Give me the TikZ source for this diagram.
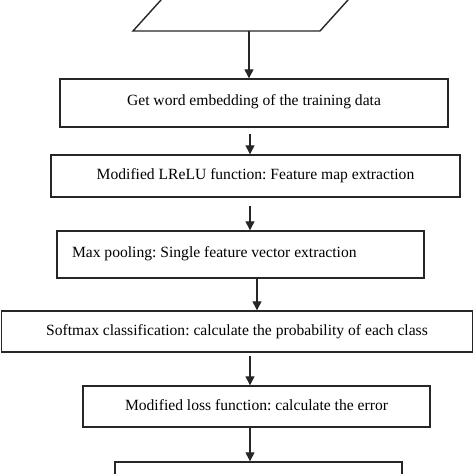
\documentclass[tikz,border=0pt]{standalone}
\usepackage{fontspec}
\setmainfont{Liberation Serif}
\usetikzlibrary{arrows.meta}
\frenchspacing

\tikzset{
    stepbox/.style={draw=black!85, line width=1.4pt, rectangle, inner sep=0pt,
        font=\fontsize{15.6}{18}\selectfont},
    flow/.style={-{Triangle[length=9pt,width=9pt]}, line width=1.3pt, black!85},
}

\begin{document}
\begin{tikzpicture}[x=1pt, y=1pt]

    \useasboundingbox (0,0) rectangle (474,-474);
    \clip (0,0) rectangle (474,-474);

    % input data (parallelogram, cut at the top)
    \draw[line width=1.4pt, black!85] (133,-31) -- (320,-31) -- (357,10) -- (170,10) -- cycle;
    \coordinate (input) at (249,-31);
    \coordinate (axis) at (250,0);
    \coordinate (axisb) at (257,0);

    % processing steps
    \node[stepbox, minimum width=388, minimum height=48] (embed) at (254,-103)
        {\raisebox{5pt}{Get word embedding of the training data}};
    \node[stepbox, minimum width=409, minimum height=42] (lrelu) at (255.5,-176)
        {Modified LReLU function: Feature map extraction};
    \node[stepbox, minimum width=367, minimum height=47] (pool) at (240.5,-254.5)
        {\makebox[337pt][l]{\raisebox{5pt}{Max pooling: Single feature vector extraction}}};
    \node[stepbox, minimum width=471, minimum height=41] (softmax) at (237,-331.5)
        {Softmax classification: calculate the probability of each class};
    \node[stepbox, minimum width=347, minimum height=41] (loss) at (256.5,-406.5)
        {\raisebox{2pt}{Modified loss function: calculate the error}};
    \node[stepbox, minimum width=287, minimum height=45] (update) at (258.5,-484.5) {};

    % connectors
    \draw[flow] (input) -- (embed.north -| input);
    \draw[flow, shorten <=6pt] (embed.south -| axis) -- (lrelu.north -| axis);
    \draw[flow, shorten <=8pt] (lrelu.south -| axis) -- (pool.north -| axis);
    \draw[flow] (pool.south -| axisb) -- (softmax.north -| axisb);
    \draw[flow, shorten <=3pt] (softmax.south -| axis) -- (loss.north -| axis);
    \draw[flow] (loss.south -| axis) -- (update.north -| axis);

\end{tikzpicture}
\end{document}
